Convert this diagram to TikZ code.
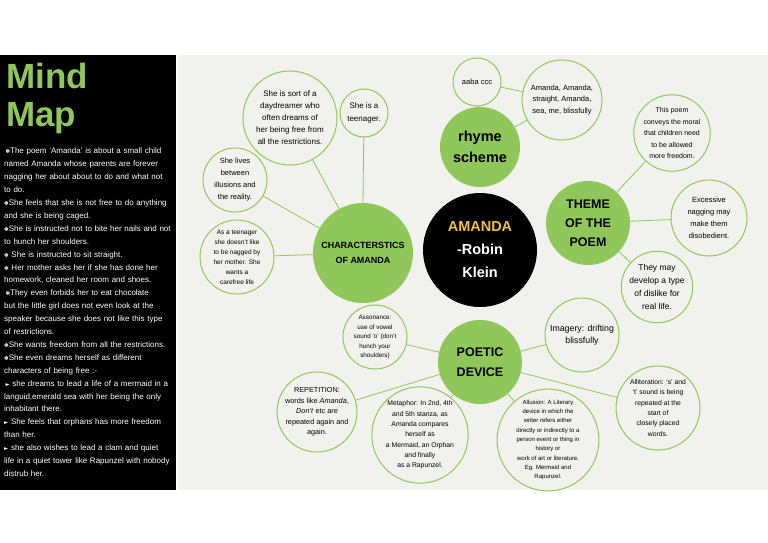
\documentclass[tikz,border=0pt]{standalone}
\usepackage{fontspec}
\setmainfont{Liberation Sans}
\newfontfamily\djvfont{DejaVu Sans}
\definecolor{gr}{HTML}{8FC75A}
\definecolor{bgc}{HTML}{F1F2EE}
\definecolor{yl}{HTML}{F2C230}
\AtBeginDocument{\hyphenpenalty=10000\exhyphenpenalty=10000\relax}
\newcommand{\bul}{{\djvfont\fontsize{5.5}{5}\selectfont ✽}}
\newcommand{\tri}{{\djvfont\fontsize{5.5}{5}\selectfont ►}}
\begin{document}
\begin{tikzpicture}[x=1pt,y=-1pt,
 leaf/.style={circle,draw=gr,line width=1pt,fill=bgc,inner sep=0pt,align=center,font=\fontsize{7.5}{9.5}\selectfont},
 hub/.style={circle,fill=gr,inner sep=0pt,align=center},
 ln/.style={draw=gr,line width=0.8pt}]
\useasboundingbox (0,0) rectangle (768,543);
\fill[white] (0,0) rectangle (768,543);
\fill[bgc] (178,55) rectangle (768,490);
\fill[black] (0,55) rectangle (176,490);
\node[anchor=north west,text=gr,font=\bfseries\fontsize{35}{38}\selectfont,align=left,inner sep=0pt] (title) at (6,63) {Mind\\Map};
\node[anchor=north west,text=white,inner sep=0pt,text width=170pt,align=left,font=\fontsize{8}{12.9}\selectfont] (txt) at (4,148) {
\,\bul The poem `Amanda' is about a small child named Amanda whose parents are forever nagging her about about to do and what not to do.\\
\bul She feels that she is not free to do anything and she is being caged.\\
\bul She is instructed not to bite her nails and not to hunch her shoulders.\\
\bul\ She is instructed to sit straight.\\
\bul\ Her mother asks her if she has done her homework, cleaned her room and shoes.\\
\,\bul They even forbids her to eat chocolate but the little girl does not even look at the speaker because she does not like this type of restrictions.\\
\bul She wants freedom from all the restrictions.\\
\bul She even dreams herself as different characters of being free :-\\
\,\tri\ she dreams to lead a life of a mermaid in a languid,emerald sea with her being the only inhabitant there.\\
\tri\ She feels that orphans has more freedom than her.\\
\tri\ she also wishes to lead a clam and quiet life in a quiet tower like Rapunzel with nobody distrub her.};

% hubs
\node[hub,minimum size=80pt,font=\bfseries\fontsize{14.5}{21}\selectfont] (rh) at (480,147) {rhyme\\scheme};
\node[hub,minimum size=84pt,font=\bfseries\fontsize{12.5}{19}\selectfont] (th) at (588,223) {THEME\\OF THE\\POEM};
\node[hub,minimum size=100pt,font=\bfseries\fontsize{9}{15}\selectfont] (ch) at (363,253) {CHARACTERSTICS\\OF AMANDA};
\node[hub,minimum size=84pt,font=\bfseries\fontsize{12.5}{20}\selectfont] (pd) at (480,362) {POETIC\\DEVICE};
\node[circle,fill=black,minimum size=114pt,inner sep=0pt,align=center,text=white,font=\bfseries\fontsize{14.5}{23}\selectfont] (am) at (480,250) {\textcolor{yl}{AMANDA}\\-Robin\\Klein};

% leaves
\node[leaf,minimum size=48pt] (aa) at (477,82) {aaba ccc};
\node[leaf,minimum size=80pt,font=\fontsize{7.5}{11.5}\selectfont] (al) at (562,100) {Amanda, Amanda,\\straight, Amanda,\\sea, me, blissfully};
\node[leaf,minimum size=74pt,font=\fontsize{7}{11.5}\selectfont] (t1) at (672,133) {This poem\\conveys the moral\\that children need\\to be allowed\\more freedom.};
\node[leaf,minimum size=76pt,font=\fontsize{7.5}{12}\selectfont] (t2) at (709,218) {Excessive\\nagging may\\make them\\disobedient.};
\node[leaf,minimum size=70pt,font=\fontsize{8.5}{13}\selectfont] (t3) at (657,287) {They may\\develop a type\\of dislike for\\real life.};
\node[leaf,minimum size=94pt,font=\fontsize{8}{12}\selectfont] (c1) at (290,118) {She is sort of a\\daydreamer who\\often dreams of\\her being free from\\all the restrictions.};
\node[leaf,minimum size=48pt,font=\fontsize{8}{13}\selectfont] (c2) at (364,113) {She is a\\teenager.};
\node[leaf,minimum size=64pt,font=\fontsize{7.5}{12}\selectfont] (c3) at (235,180) {She lives\\between\\illusions and\\the reality.};
\node[leaf,minimum size=74pt,font=\fontsize{6.5}{10}\selectfont] (c4) at (237,257) {As a teenager\\she doesn't like\\to be nagged by\\her mother. She\\wants a\\carefree life};
\node[leaf,minimum size=64pt,font=\fontsize{6.3}{9.5}\selectfont] (p1) at (375,337) {Assonance:\\use of vowel\\sound `o' (don't\\hunch your\\shoulders)};
\node[leaf,minimum size=74pt,font=\fontsize{8.8}{12}\selectfont] (p2) at (582,335) {Imagery: drifting\\blissfully};
\node[leaf,minimum size=80pt,font=\fontsize{7.3}{10.5}\selectfont] (p3) at (317,412) {REPETITION:\\words like \textit{Amanda},\\\textit{Don't} etc are\\repeated again and\\again.};
\node[leaf,minimum size=96pt,font=\fontsize{6.8}{10.3}\selectfont] (p4) at (420,435) {Metaphor: In 2nd, 4th\\and 5th stanza, as\\Amanda compares\\herself as\\a Mermaid, an Orphan\\and finally\\as a Rapunzel.};
\node[leaf,minimum size=96pt,font=\fontsize{6}{9.3}\selectfont] (p5) at (548,440) {Allusion: A Literary\\device in which the\\writer refers either\\directly or indirectly to a\\person event or thing in\\history or\\work of art or literature.\\Eg. Mermaid and\\Rapunzel.};
\node[leaf,minimum size=84pt,font=\fontsize{6.8}{10.3}\selectfont] (p6) at (658,408) {Alliteration: `s' and\\`t' sound is being\\repeated at the\\start of\\closely placed\\words.};

% connectors
\draw[ln] (rh) -- (aa);
\draw[ln] (aa) -- (al);
\draw[ln] (rh) -- (al);
\draw[ln] (th) -- (t1);
\draw[ln] (th) -- (t2);
\draw[ln] (th) -- (t3);
\draw[ln] (ch) -- (c1);
\draw[ln] (ch.north) -- (c2);
\draw[ln] (ch) -- (c3);
\draw[ln] (ch) -- (c4);
\draw[ln] (pd) -- (p1);
\draw[ln] (pd) -- (p2);
\draw[ln] (pd) -- (p3);
\draw[ln] (pd) -- (p4);
\draw[ln] (pd) -- (p5);
\draw[ln] (pd) -- (p6);
\end{tikzpicture}
\end{document}
